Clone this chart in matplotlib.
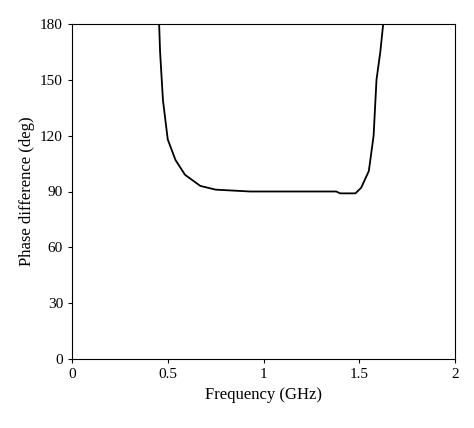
import matplotlib
matplotlib.use("Agg")
import matplotlib.pyplot as plt

freq = [0.455, 0.46, 0.475, 0.50, 0.54, 0.59, 0.67, 0.75, 0.93, 1.20, 1.38, 1.40, 1.48, 1.51, 1.55, 1.575, 1.59, 1.61, 1.625]
phase = [180, 165, 139, 118, 107, 99, 93, 91, 90, 90, 90, 89, 89, 92, 101, 120, 150, 165, 180]

plt.rcParams['font.family'] = ['Liberation Serif']
fig = plt.figure(figsize=(4.74, 4.28), dpi=100)
ax = fig.add_axes([72/474, (428-359)/428, 383/474, 335/428])
ax.plot(freq, phase, color='black', lw=1.3)
ax.set_xlim(0, 2)
ax.set_ylim(0, 180)
ax.set_xticks([0, 0.5, 1, 1.5, 2])
ax.set_xticklabels(['0', '0.5', '1', '1.5', '2'])
ax.set_yticks(range(0, 181, 30))
ax.tick_params(labelsize=11, direction='out', length=3)
ax.set_xlabel('Frequency (GHz)', fontsize=12)
ax.set_ylabel('Phase difference (deg)', fontsize=12)
fig.savefig('out.png', dpi=100)
